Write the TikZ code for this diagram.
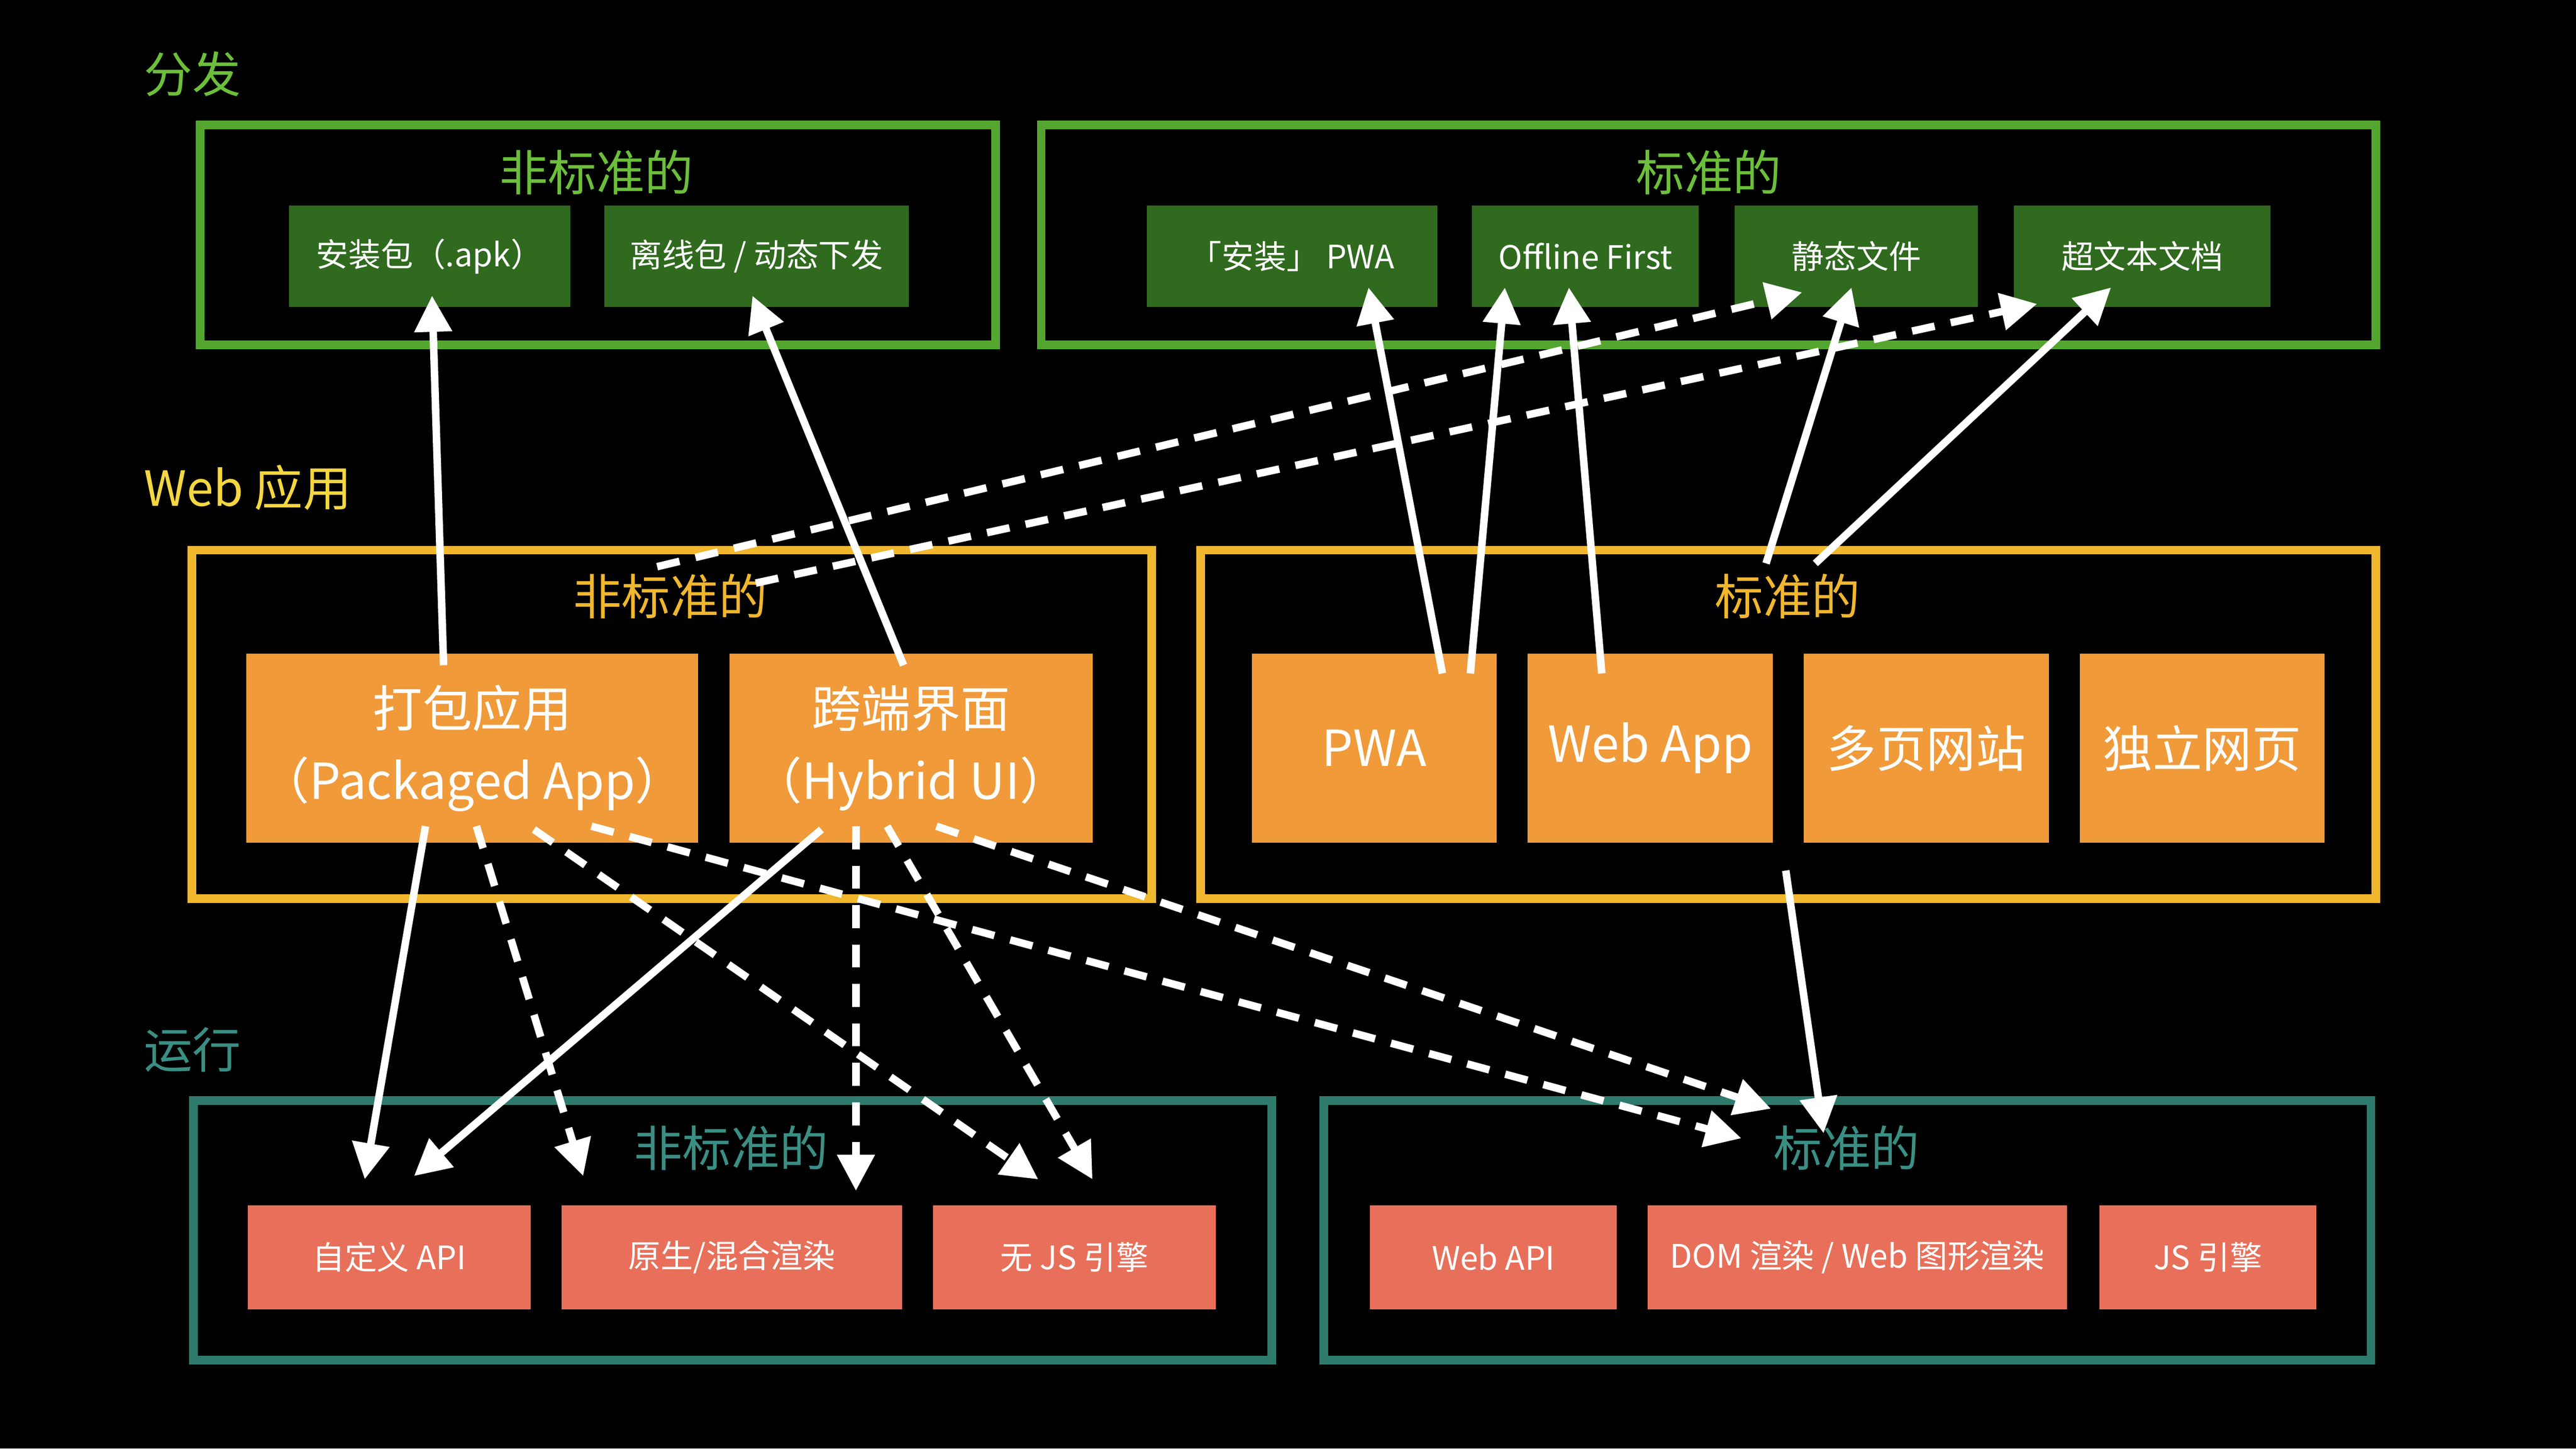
\documentclass[tikz,border=0pt]{standalone}
\usepackage{fontspec}
\setmainfont{Noto Sans CJK SC}
\usetikzlibrary{arrows.meta}
\definecolor{gfr}{HTML}{55A630}
\definecolor{gtx}{HTML}{6CBF3A}
\definecolor{gbx}{HTML}{2F6A1E}
\definecolor{yfr}{HTML}{F0B72F}
\definecolor{ylab}{HTML}{F5D742}
\definecolor{obx}{HTML}{F09A3A}
\definecolor{tfr}{HTML}{2E7A6C}
\definecolor{ttx}{HTML}{3A8F84}
\definecolor{rbx}{HTML}{E8705A}
\begin{document}
\begin{tikzpicture}[x=0.01cm,y=-0.01cm,
 frame/.style={draw,line width=1.5pt,inner sep=0,fill=none},
 gbox/.style={fill=gbx,text=white,inner sep=0,minimum height=0.62cm,font=\fontsize{5.6}{6}\selectfont},
 obox/.style={fill=obx,text=white,inner sep=0,minimum height=1.15cm,align=center,font=\fontsize{8.6}{12.5}\selectfont},
 rbox/.style={fill=rbx,text=white,inner sep=0,minimum height=0.63cm,font=\fontsize{5.6}{6}\selectfont},
 ttl/.style={font=\fontsize{8.4}{9}\selectfont,inner sep=0},
 sec/.style={font=\fontsize{8.4}{9}\selectfont,inner sep=0,anchor=west},
 arr/.style={draw=white,line width=1.3pt,-{Triangle[length=0.22cm,width=0.22cm]}},
 dar/.style={arr,dash pattern=on 0.14cm off 0.1cm}]
\fill[black] (0,0) rectangle (1568,882);
% sections
\node[sec,text=gtx] (s1) at (87,45) {分发};
\node[sec,text=ylab] (s2) at (87,297) {Web 应用};
\node[sec,text=ttx] (s3) at (87,639) {运行};
% frames
\node[frame,draw=gfr,minimum width=4.84cm,minimum height=1.34cm] (fg1) at (364,143) {};
\node[frame,draw=gfr,minimum width=8.12cm,minimum height=1.34cm] (fg2) at (1040,143) {};
\node[frame,draw=yfr,minimum width=5.84cm,minimum height=2.12cm] (fy1) at (409,441) {};
\node[frame,draw=yfr,minimum width=7.15cm,minimum height=2.12cm] (fy2) at (1088.5,441) {};
\node[frame,draw=tfr,minimum width=6.56cm,minimum height=1.58cm] (ft1) at (446,749) {};
\node[frame,draw=tfr,minimum width=6.37cm,minimum height=1.58cm] (ft2) at (1124.5,749) {};
% titles
\node[ttl,text=gtx] (tg1) at (363,105) {非标准的};
\node[ttl,text=gtx] (tg2) at (1040,105) {标准的};
\node[ttl,text=yfr] (ty1) at (408,363) {非标准的};
\node[ttl,text=yfr] (ty2) at (1088,363) {标准的};
\node[ttl,text=ttx] (tt1) at (445,699) {非标准的};
\node[ttl,text=ttx] (tt2) at (1124,699) {标准的};
% green boxes
\node[gbox,minimum width=1.71cm] (apk) at (261.5,156) {安装包（.apk）};
\node[gbox,minimum width=1.85cm] (lx) at (460.5,156) {离线包 / 动态下发};
\node[gbox,minimum width=1.77cm] (ipwa) at (786.5,156) {「安装」 PWA};
\node[gbox,minimum width=1.38cm] (off) at (965,156) {Offline First};
\node[gbox,minimum width=1.48cm] (stat) at (1130,156) {静态文件};
\node[gbox,minimum width=1.56cm] (hyp) at (1304,156) {超文本文档};
% orange boxes
\node[obox,minimum width=2.75cm] (pkg) at (287.5,455.5) {打包应用\\（Packaged App）};
\node[obox,minimum width=2.21cm] (hyb) at (554.5,455.5) {跨端界面\\（Hybrid UI）};
\node[obox,minimum width=1.49cm] (pwa) at (836.5,455.5) {PWA};
\node[obox,minimum width=1.49cm] (wapp) at (1004.5,455.5) {Web App};
\node[obox,minimum width=1.49cm] (mpa) at (1172.5,455.5) {多页网站};
\node[obox,minimum width=1.49cm] (spa) at (1340.5,455.5) {独立网页};
% red boxes
\node[rbox,minimum width=1.72cm] (cust) at (237,765.5) {自定义 API};
\node[rbox,minimum width=2.07cm] (nat) at (445.5,765.5) {原生/混合渲染};
\node[rbox,minimum width=1.72cm] (nojs) at (654,765.5) {无 JS 引擎};
\node[rbox,minimum width=1.5cm] (wapi) at (909,765.5) {Web API};
\node[rbox,minimum width=2.55cm] (dom) at (1130.5,765.5) {DOM 渲染 / Web 图形渲染};
\node[rbox,minimum width=1.32cm] (js) at (1344,765.5) {JS 引擎};
% coordinates
\coordinate (a1s) at (270,405); \coordinate (a1e) at (263,180);
\coordinate (a2s) at (550,405); \coordinate (a2e) at (458,180);
\coordinate (a3s) at (878,410); \coordinate (a3e) at (833,175);
\coordinate (a4s) at (895,410); \coordinate (a4e) at (916,175);
\coordinate (a5s) at (975,410); \coordinate (a5e) at (955,175);
\coordinate (a6s) at (1075,343); \coordinate (a6e) at (1127,175);
\coordinate (a7s) at (1105,343); \coordinate (a7e) at (1285,175);
\coordinate (a8s) at (259,503); \coordinate (a8e) at (222,718);
\coordinate (a9s) at (500,505); \coordinate (a9e) at (252,716);
\coordinate (a10s) at (1087,530); \coordinate (a10e) at (1110,690);
\coordinate (d1s) at (400,345); \coordinate (d1e) at (1097,178);
\coordinate (d2s) at (460,355); \coordinate (d2e) at (1240,185);
\coordinate (d3s) at (290,503); \coordinate (d3e) at (355,716);
\coordinate (d4s) at (325,505); \coordinate (d4e) at (632,718);
\coordinate (d5s) at (360,503); \coordinate (d5e) at (1060,693);
\coordinate (d6s) at (521,503); \coordinate (d6e) at (521,725);
\coordinate (d7s) at (540,503); \coordinate (d7e) at (665,718);
\coordinate (d8s) at (570,503); \coordinate (d8e) at (1078,675);
% arrows
\foreach \i in {1,...,10} \draw[arr] (a\i s) -- (a\i e);
\foreach \i in {1,...,8} \draw[dar] (d\i s) -- (d\i e);
\end{tikzpicture}
\end{document}
